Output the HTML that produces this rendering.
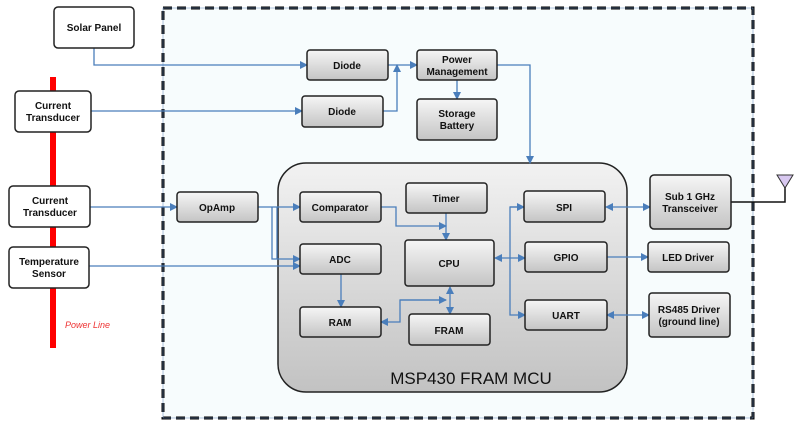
<!DOCTYPE html>
<html><head><meta charset="utf-8"><style>
html,body{margin:0;padding:0;background:#fff;}
svg{display:block;font-family:"Liberation Sans",sans-serif;}
.b text{font-weight:bold;font-size:10px;fill:#111;}
</style></head><body>
<svg width="800" height="424" viewBox="0 0 800 424" xmlns="http://www.w3.org/2000/svg">
<defs>
<linearGradient id="g" x1="0" y1="0" x2="0" y2="1"><stop offset="0" stop-color="#f6f6f6"/><stop offset="1" stop-color="#c4c4c4"/></linearGradient>
<linearGradient id="mg" x1="0" y1="0" x2="0" y2="1"><stop offset="0" stop-color="#f2f2f2"/><stop offset="1" stop-color="#c2c2c2"/></linearGradient>
<marker id="a" markerWidth="8" markerHeight="8" refX="7" refY="4" orient="auto" markerUnits="userSpaceOnUse"><path d="M0,0 L8,4 L0,8 z" fill="#4a7ebb"/></marker>
<marker id="s" markerWidth="8" markerHeight="8" refX="1" refY="4" orient="auto" markerUnits="userSpaceOnUse"><path d="M8,0 L0,4 L8,8 z" fill="#4a7ebb"/></marker>
</defs>
<rect x="163" y="8" width="590" height="410" fill="#f7fcfd"/>
<rect x="163" y="8" width="590" height="410" fill="none" stroke="#000" stroke-width="3" stroke-dasharray="9,5"/>
<rect x="163" y="8" width="590" height="410" fill="none" stroke="#7a9cc6" stroke-width="0.6"/>
<rect x="50" y="77" width="6" height="271" fill="#f00"/>
<text x="65" y="328" font-size="9" font-style="italic" fill="#e33">Power Line</text>
<rect x="278" y="163" width="349" height="229" rx="28" fill="url(#mg)" stroke="#222" stroke-width="1.5"/>
<text x="471" y="384" font-size="17" text-anchor="middle" fill="#111">MSP430 FRAM MCU</text>
<g fill="none" stroke="#4a7ebb" stroke-width="1.3">
<path d="M94,48 V65 H307" marker-end="url(#a)"/>
<path d="M91,111 H302" marker-end="url(#a)"/>
<path d="M388,65 H417" marker-end="url(#a)"/>
<path d="M383,111 H397 V65" marker-end="url(#a)"/>
<path d="M457,80 V99" marker-end="url(#a)"/>
<path d="M497,65 H530 V163" marker-end="url(#a)"/>
<path d="M89,207 H177" marker-end="url(#a)"/>
<path d="M258,207 H300" marker-end="url(#a)"/>
<path d="M272,207 V259 H300" marker-end="url(#a)"/>
<path d="M277,207 V259"/>
<path d="M89,266 H300" marker-end="url(#a)"/>
<path d="M381,207 H396 V226 H446" marker-end="url(#a)"/>
<path d="M446,213 V240" marker-end="url(#a)"/>
<path d="M341,274 V307" marker-end="url(#a)"/>
<path d="M446,300 H400 V322 H381" marker-end="url(#a)" />
<path d="M400,300 H446" marker-end="url(#a)"/>
<path d="M450,287 V314" marker-start="url(#s)" marker-end="url(#a)"/>
<path d="M495,258 H525" marker-start="url(#s)" marker-end="url(#a)"/>
<path d="M524,207 H510 V315 H525" marker-end="url(#a)"/>
<path d="M510,207 H524" marker-end="url(#a)"/>
<path d="M606,207 H650" marker-start="url(#s)" marker-end="url(#a)"/>
<path d="M607,257 H648" marker-end="url(#a)"/>
<path d="M607,315 H649" marker-start="url(#s)" marker-end="url(#a)"/>
</g>
<path d="M731,202 H785 V186" fill="none" stroke="#111" stroke-width="1.5"/>
<path d="M777,175 H793 L785,188 z" fill="#d8c8f0" stroke="#333" stroke-width="1"/>
<g stroke="#222" stroke-width="1.5">
<rect x="54" y="7" width="80" height="41" rx="4" fill="#fff"/>
<rect x="15" y="91" width="76" height="41" rx="4" fill="#fff"/>
<rect x="9" y="186" width="81" height="41" rx="4" fill="#fff"/>
<rect x="9" y="247" width="80" height="41" rx="4" fill="#fff"/>
</g>
<g stroke="#222" stroke-width="1.5" fill="url(#g)">
<rect x="307" y="50" width="81" height="30" rx="3"/>
<rect x="302" y="96" width="81" height="31" rx="3"/>
<rect x="417" y="50" width="80" height="30" rx="3"/>
<rect x="417" y="99" width="80" height="41" rx="3"/>
<rect x="177" y="192" width="81" height="30" rx="3"/>
<rect x="300" y="192" width="81" height="30" rx="3"/>
<rect x="406" y="183" width="81" height="30" rx="3"/>
<rect x="300" y="244" width="81" height="30" rx="3"/>
<rect x="405" y="240" width="89" height="46" rx="3"/>
<rect x="300" y="307" width="81" height="30" rx="3"/>
<rect x="409" y="314" width="81" height="31" rx="3"/>
<rect x="524" y="191" width="81" height="31" rx="3"/>
<rect x="525" y="242" width="82" height="30" rx="3"/>
<rect x="525" y="300" width="82" height="30" rx="3"/>
<rect x="650" y="175" width="81" height="54" rx="4"/>
<rect x="648" y="242" width="81" height="30" rx="3"/>
<rect x="649" y="293" width="81" height="44" rx="3"/>
</g>
<g class="b" text-anchor="middle">
<text x="94" y="31">Solar Panel</text>
<text x="53" y="109">Current</text><text x="53" y="121">Transducer</text>
<text x="50" y="204">Current</text><text x="50" y="216">Transducer</text>
<text x="49" y="265">Temperature</text><text x="49" y="277">Sensor</text>
<text x="347" y="69">Diode</text>
<text x="342" y="115">Diode</text>
<text x="457" y="63">Power</text><text x="457" y="75">Management</text>
<text x="457" y="117">Storage</text><text x="457" y="129">Battery</text>
<text x="217" y="211">OpAmp</text>
<text x="340" y="211">Comparator</text>
<text x="446" y="202">Timer</text>
<text x="340" y="263">ADC</text>
<text x="449" y="267">CPU</text>
<text x="340" y="326">RAM</text>
<text x="449" y="334">FRAM</text>
<text x="564" y="211">SPI</text>
<text x="566" y="261">GPIO</text>
<text x="566" y="319">UART</text>
<text x="690" y="200">Sub 1 GHz</text><text x="690" y="212">Transceiver</text>
<text x="688" y="261">LED Driver</text>
<text x="689" y="313">RS485 Driver</text>
<text x="689" y="325" font-weight="normal" fill="#333">(ground line)</text>
</g>
</svg>
</body></html>
